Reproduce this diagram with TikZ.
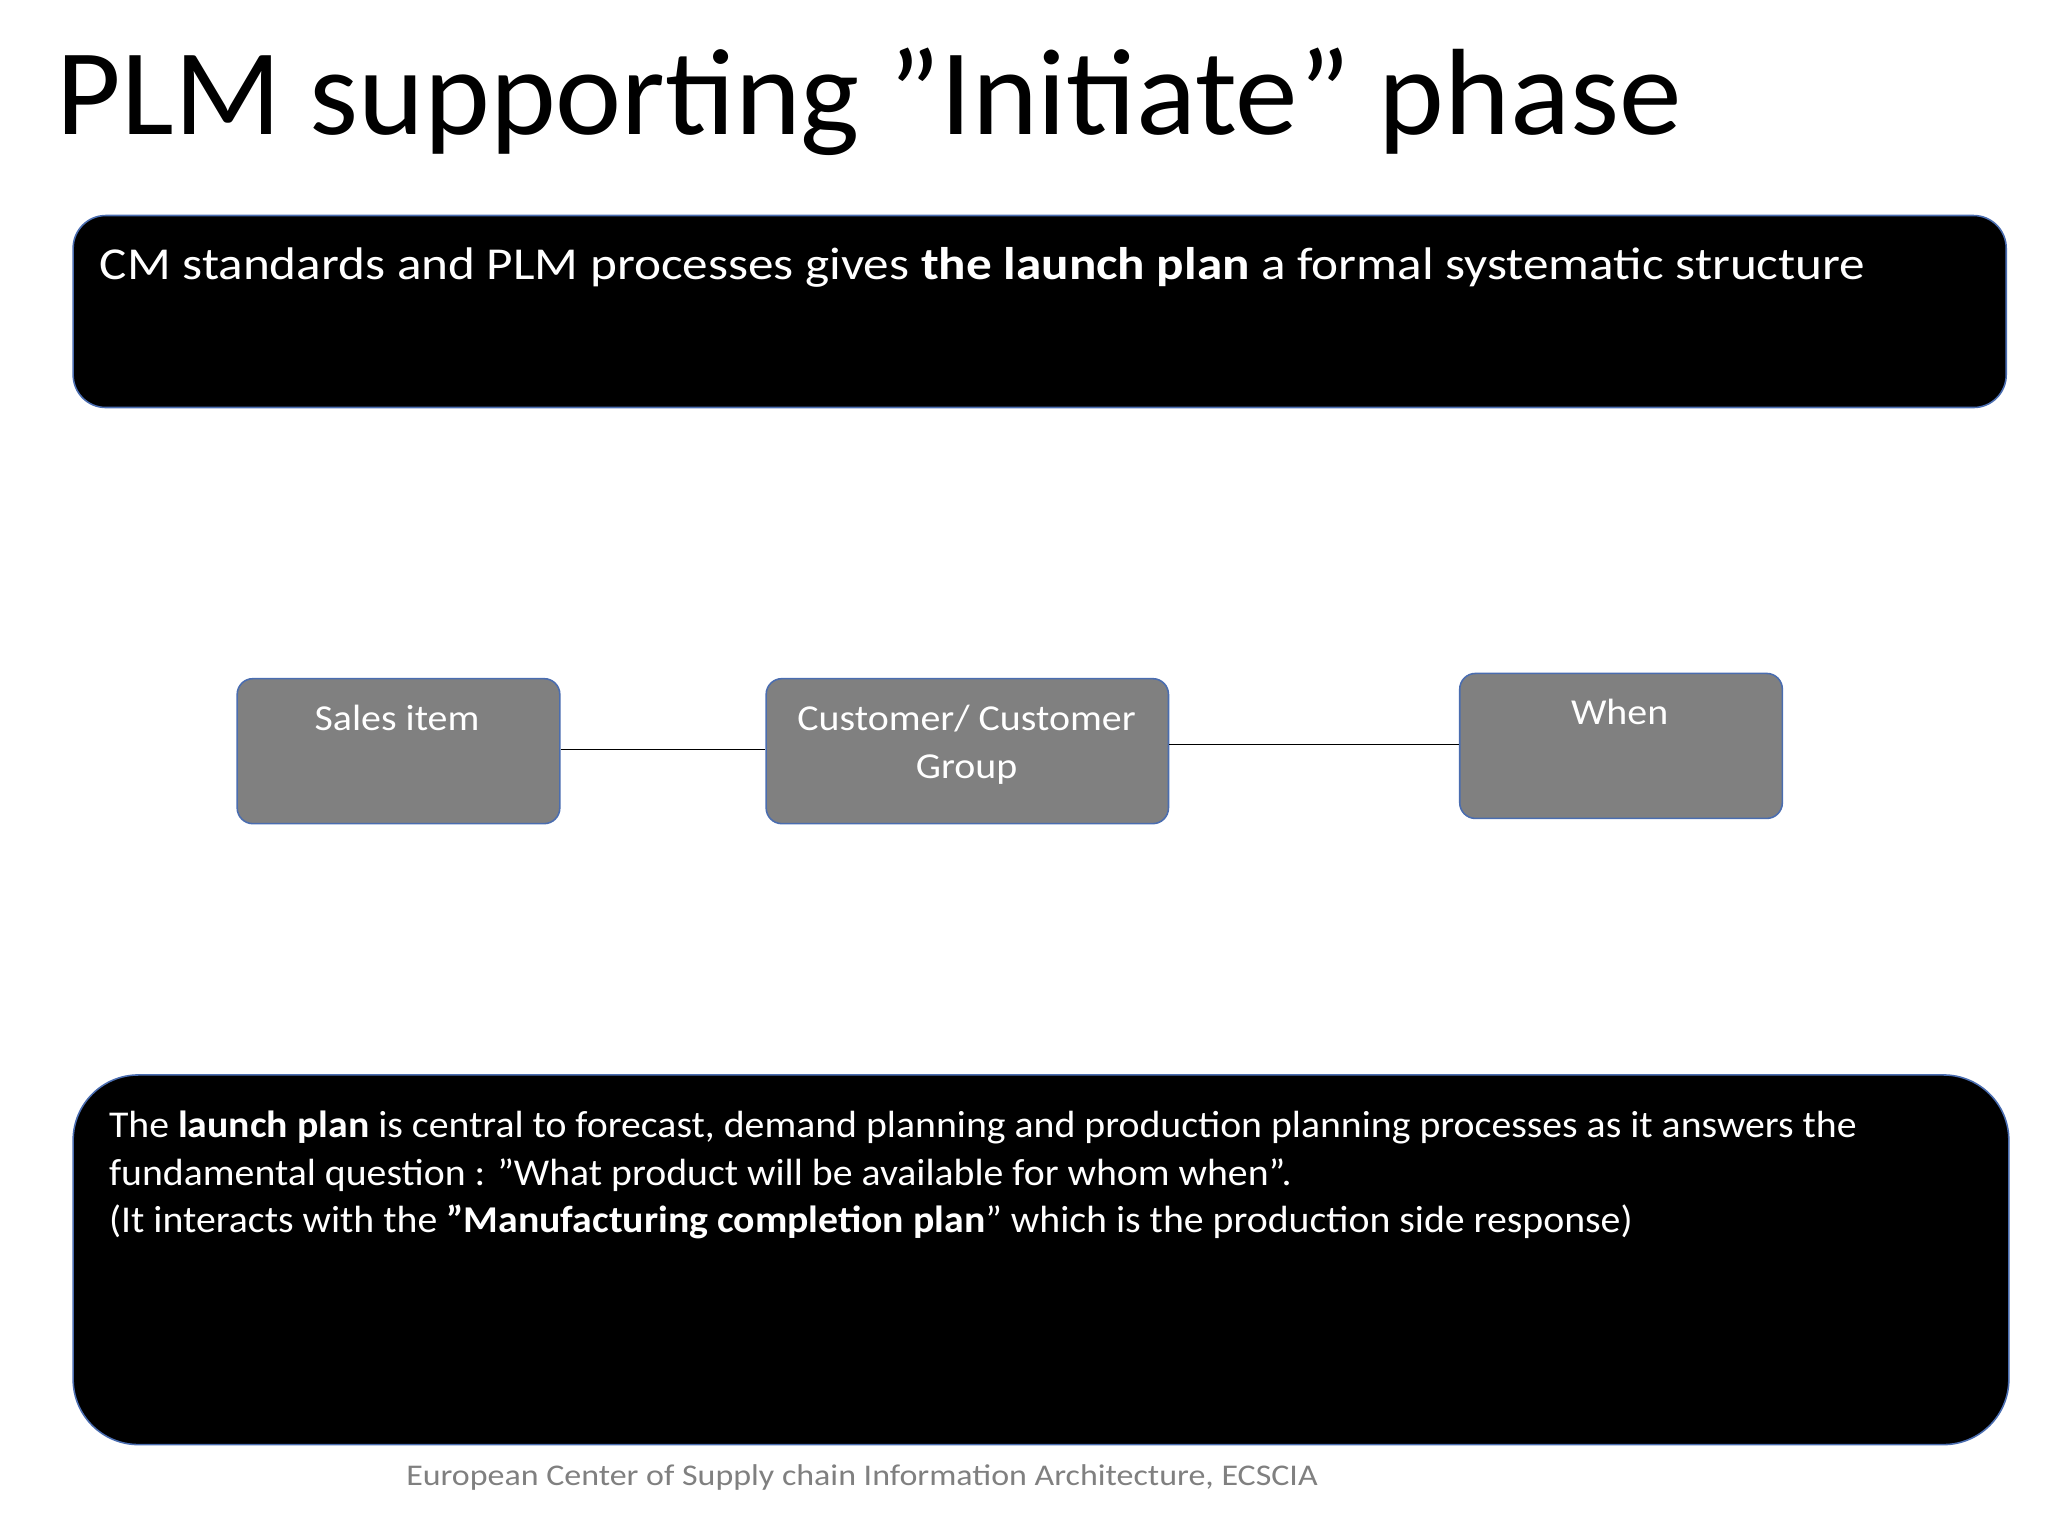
\documentclass[tikz,border=0pt]{standalone}
\usepackage{fontspec}
\setmainfont{Carlito}
\newfontfamily\fA[FakeStretch=1.02]{Carlito}
\newfontfamily\fB[FakeStretch=1.12]{Carlito}
\newfontfamily\fC[FakeStretch=1.05]{Carlito}
\newfontfamily\fD[FakeStretch=1.09]{Carlito}
\newfontfamily\fE[FakeStretch=1.13]{Carlito}
\definecolor{bord}{HTML}{4A6DB0}
\begin{document}
\begin{tikzpicture}[x=1pt,y=-1pt,
  bigbox/.style={draw=bord,fill=black,line width=1.2pt},
  ent/.style={draw=bord,fill=gray,line width=1.2pt,rounded corners=12pt,minimum width=247pt,minimum height=111pt,anchor=north west,inner sep=0pt},
  enttext/.style={text=white,font=\fD\fontsize{28}{37}\selectfont,align=center,anchor=north}]
\useasboundingbox (0,0) rectangle (1568,1176);
\fill[white] (0,0) rectangle (1568,1176);
\node[anchor=west,font=\fA\fontsize{94}{100}\selectfont] (title) at (40,78) {PLM supporting ”Initiate” phase};
\draw[bigbox,rounded corners=25pt] (56,165) rectangle (1536,312);
\node[anchor=west,text=white,font=\fB\fontsize{35}{40}\selectfont] (t1) at (73,205) {CM standards and PLM processes gives \textbf{the launch plan} a formal systematic structure};
\draw[bigbox,rounded corners=50pt] (56,823) rectangle (1538,1106);
\node[anchor=north west,text=white,align=left,font=\fC\fontsize{29}{36.5}\selectfont] (t2) at (80,847) {The \textbf{launch plan} is central to forecast, demand planning and production planning processes as it answers the\\fundamental question : ”What product will be available for whom when”.\\(It interacts with the \textbf{”Manufacturing completion plan}” which is the production side response)};
\node[ent] (a) at (181,519) {};
\node[ent,minimum width=308pt] (b) at (586,519) {};
\node[ent] (c) at (1117,515) {};
\node[enttext] at (304,536) {Sales item};
\node[enttext] at (740,536) {Customer/ Customer\\Group};
\node[enttext] at (1240,532) {When};
\draw[line width=1pt] (a.east |- 0,574) -- (b.west |- 0,574);
\draw[line width=1pt] (b.east |- 0,570) -- (c.west |- 0,570);
\node[text=gray,font=\fE\fontsize{23}{26}\selectfont] (f) at (660,1131) {European Center of Supply chain Information Architecture, ECSCIA};
\end{tikzpicture}
\end{document}
